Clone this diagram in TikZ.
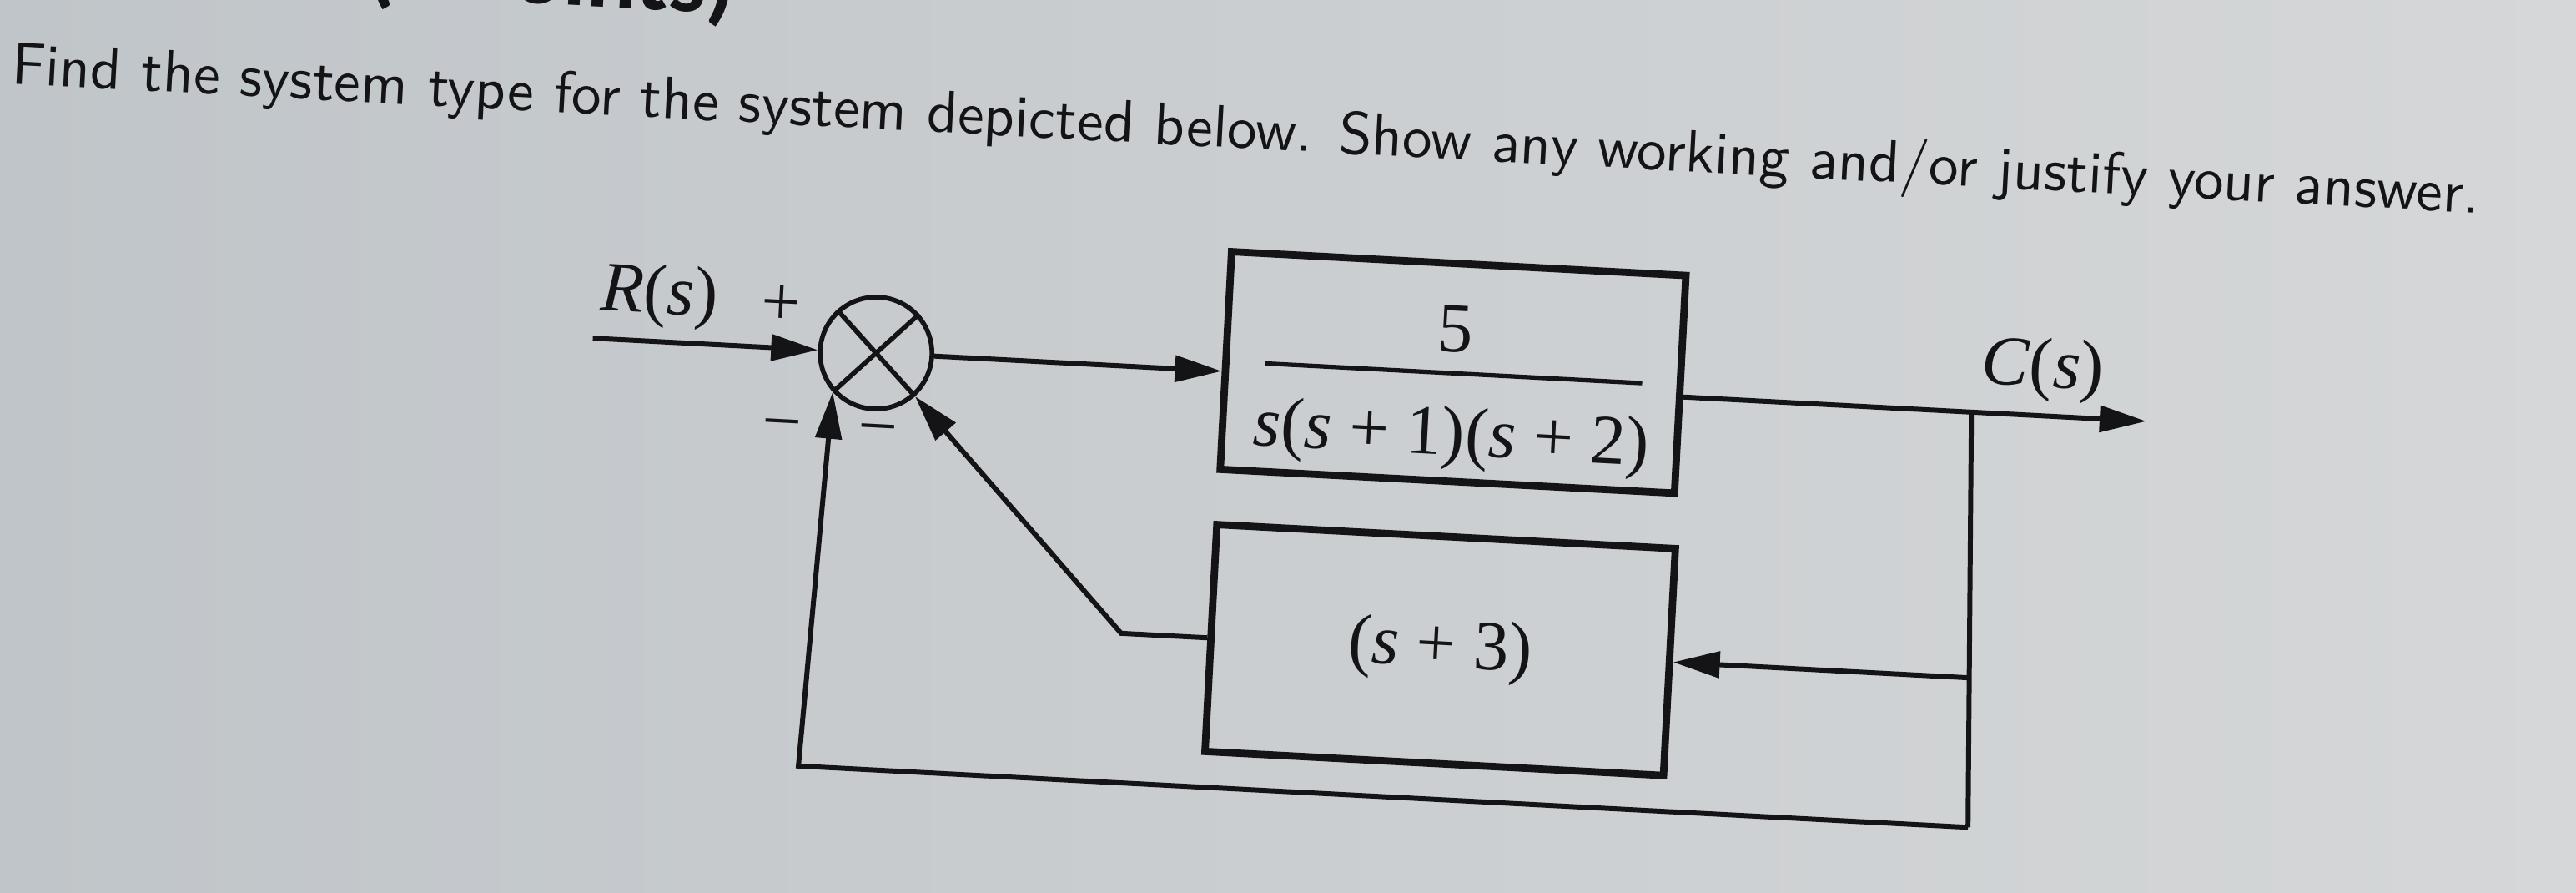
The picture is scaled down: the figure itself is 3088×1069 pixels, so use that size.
\documentclass[tikz,border=0pt]{standalone}
\usepackage{graphicx}
\usepackage{fontspec}
\setmainfont{Liberation Serif}
\newfontfamily\ptsfont{Carlito}
\usetikzlibrary{arrows.meta,calc}
\definecolor{paperL}{RGB}{192,197,201}
\definecolor{paperR}{RGB}{213,215,216}
\definecolor{ink}{RGB}{20,20,22}
\tikzset{
  arr/.style={-{Triangle[length=0.56cm,width=0.31cm]}},
  wire/.style={line width=1.7pt},
  blockbox/.style={draw, line width=2.5pt, inner sep=0pt},
  lbl/.style={inner sep=0pt, font=\fontsize{24}{28}\selectfont},
}
\begin{document}
\begin{tikzpicture}[x=0.01cm,y=-0.01cm]
\shade[left color=paperL,right color=paperR] (0,0) rectangle (3088,1069);
\useasboundingbox (0,0) rectangle (3088,1069);
\begin{scope}[rotate around={-3:(1544,534)}, transform shape, color=ink]
  % header texts
  \node[anchor=base west, inner sep=0pt, font=\ptsfont\bfseries\fontsize{32}{38}\selectfont] (pts) at (411,52) {(5 Points)};
  \node[anchor=base west, inner sep=0pt] (q) at (-8,181)
    {\resizebox{29.6cm}{!}{\sffamily Find the system type for the system depicted below. Show any working and/or justify your answer.}};
  % summing junction
  \node[draw, circle, line width=1.6pt, minimum size=1.34cm, inner sep=0pt] (sum) at (1045,449) {};
  \draw[line width=1.6pt] (sum.45) -- (sum.225) (sum.135) -- (sum.-45);
  % blocks
  \node[blockbox, minimum width=5.45cm, minimum height=2.61cm] (G) at (1737,436) {};
  \node[lbl] (num) at (1737,384) {5};
  \node[lbl] (den) at (1739,515) {\textit{s}(\textit{s} + 1)(\textit{s} + 2)};
  \draw[line width=1.5pt] (1511,437) -- (1964,437);
  \node[blockbox, minimum width=5.5cm, minimum height=2.72cm, lbl] (H) at (1739,769) {(\textit{s} + 3)};
  % labels
  \node[lbl] (R) at (782,395) {\textit{R}(\textit{s})};
  \node[lbl] (plus) at (929,398) {+};
  \node[lbl] (m1) at (937,549) {\textminus};
  \node[lbl] (m2) at (1052,549) {\textminus};
  \node[lbl] (C) at (2443,396) {\textit{C}(\textit{s})};
  % coordinates
  \coordinate (in) at (705,449);
  \coordinate (branch) at (2360,451);
  \coordinate (out) at (2570,451);
  \coordinate (botR) at (2382,948);
  \coordinate (botL) at (978,948);
  \coordinate (elbow) at (1356,769);
  \coordinate (tapH) at ($(branch)!0.64!(botR)$);
  % connectors
  \draw[wire, arr] (in) -- (sum.west);
  \draw[wire, arr] (sum.east) -- (sum.east -| G.west);
  \draw[wire, arr] (G.east |- out) -- (out);
  \draw[wire] (branch) -- (botR);
  \draw[wire, arr] (tapH) -- (H.east);
  \draw[wire, arr] (H.west) -- (elbow) -- (sum.-45);
  \draw[wire, arr] (botR) -- (botL) -- (sum.225);
\end{scope}
\end{tikzpicture}
\end{document}
